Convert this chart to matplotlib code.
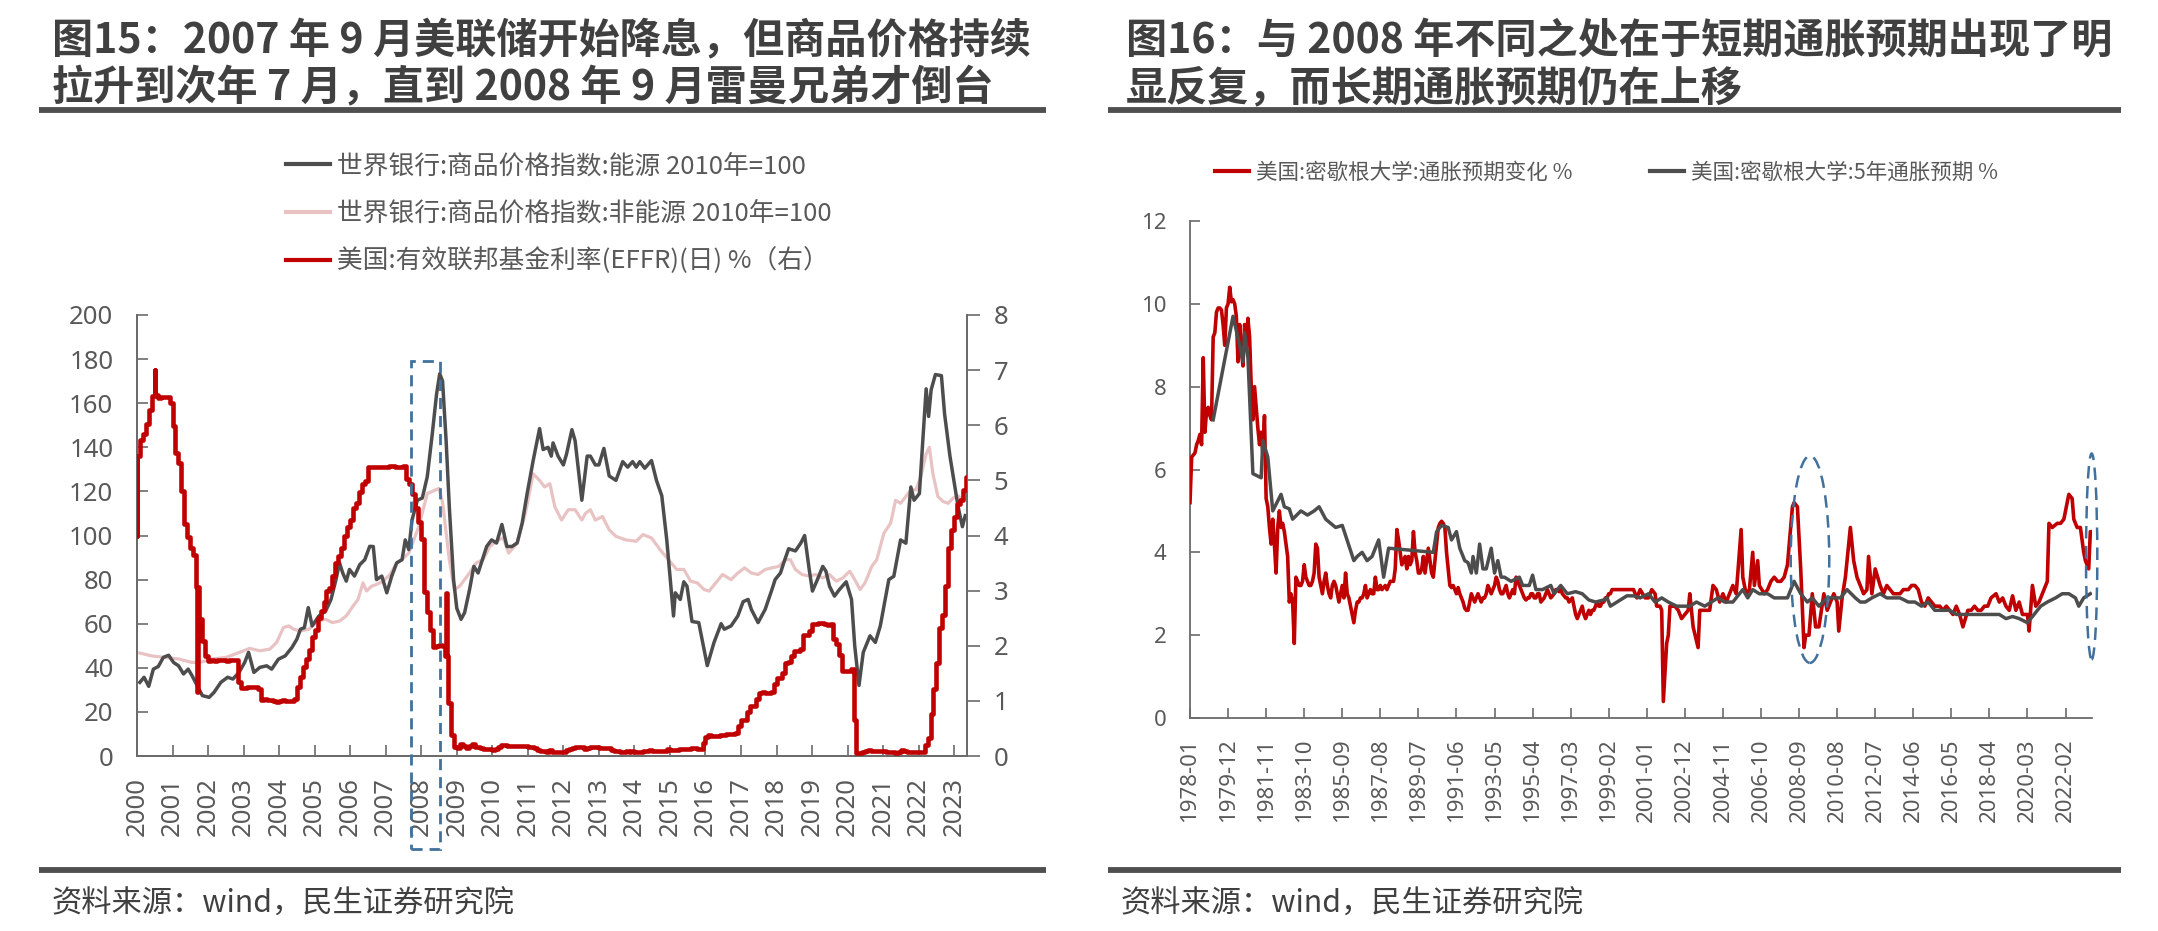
import matplotlib
matplotlib.use("Agg")
import matplotlib.pyplot as plt
from matplotlib.patches import Rectangle, Ellipse
from matplotlib.lines import Line2D
import numpy as np

plt.rcParams['font.family'] = ['Noto Sans CJK SC', 'DejaVu Sans']
plt.rcParams['axes.unicode_minus'] = False

# ======================= DATA: figure 15 =======================
energy_t = [2000.08, 2000.2, 2000.33, 2000.46, 2000.6, 2000.74, 2000.89, 2001.03, 2001.17, 2001.31,
            2001.44, 2001.55, 2001.67, 2001.84, 2002.03, 2002.17, 2002.36, 2002.55, 2002.7, 2002.87,
            2003.03, 2003.14, 2003.29, 2003.46, 2003.65, 2003.79, 2003.98, 2004.17, 2004.36, 2004.5,
            2004.6, 2004.71, 2004.82, 2004.93, 2005.12, 2005.31, 2005.46, 2005.6, 2005.7, 2005.79,
            2005.89, 2005.98, 2006.12, 2006.27, 2006.41, 2006.55, 2006.65, 2006.74, 2006.89, 2007.03,
            2007.17, 2007.31, 2007.46, 2007.55, 2007.65, 2007.74, 2007.89, 2008.03, 2008.17, 2008.31,
            2008.43, 2008.52, 2008.6, 2008.7, 2008.79, 2008.91, 2009.0, 2009.12, 2009.22, 2009.36,
            2009.48, 2009.6, 2009.72, 2009.84, 2009.98, 2010.12, 2010.27, 2010.41, 2010.55, 2010.7,
            2010.84, 2010.98, 2011.15, 2011.33, 2011.43, 2011.57, 2011.66, 2011.71, 2011.85, 2012.0,
            2012.09, 2012.24, 2012.33, 2012.52, 2012.67, 2012.76, 2012.9, 2013.0, 2013.14, 2013.29,
            2013.48, 2013.67, 2013.81, 2013.95, 2014.05, 2014.15, 2014.29, 2014.48, 2014.62, 2014.77,
            2014.91, 2015.1, 2015.15, 2015.29, 2015.39, 2015.48, 2015.62, 2015.81, 2016.05, 2016.24,
            2016.44, 2016.53, 2016.72, 2016.91, 2017.06, 2017.2, 2017.29, 2017.48, 2017.68, 2017.87,
            2017.96, 2018.11, 2018.2, 2018.34, 2018.53, 2018.68, 2018.79, 2018.92, 2019.01, 2019.15,
            2019.3, 2019.39, 2019.49, 2019.63, 2019.77, 2019.96, 2020.11, 2020.2, 2020.32, 2020.44,
            2020.63, 2020.78, 2020.92, 2021.16, 2021.3, 2021.49, 2021.64, 2021.78, 2021.87, 2022.02,
            2022.14, 2022.21, 2022.28, 2022.35, 2022.47, 2022.64, 2022.73, 2022.88, 2023.02, 2023.11,
            2023.23, 2023.31]
energy_v = [33.4, 35.7, 31.6, 39.4, 40.6, 44.7, 45.7, 42.4, 40.9, 37.2,
            39.4, 36.4, 32.7, 27.4, 26.6, 28.9, 33.4, 35.7, 34.9, 37.9,
            42.4, 47.0, 37.9, 40.2, 40.9, 39.4, 43.9, 45.4, 49.2, 53.0,
            57.5, 58.2, 67.3, 59.0, 63.5, 65.8, 71.0, 80.0, 87.6, 83.0,
            79.3, 84.6, 81.6, 86.8, 89.0, 95.1, 95.0, 80.0, 81.6, 74.0,
            81.6, 87.6, 89.0, 98.0, 93.6, 107.0, 116.0, 117.0, 126.7, 146.0,
            164.0, 173.4, 170.0, 143.0, 113.0, 80.0, 67.0, 62.0, 65.0, 75.5,
            86.0, 83.0, 89.0, 95.0, 98.0, 96.6, 105.0, 95.0, 95.0, 96.6,
            105.6, 119.0, 134.0, 148.5, 139.0, 140.0, 136.0, 142.0, 136.0, 132.0,
            137.0, 148.0, 143.0, 116.0, 136.0, 136.0, 132.0, 132.0, 139.5, 127.0,
            125.0, 133.5, 131.0, 133.5, 131.0, 133.5, 130.5, 134.0, 125.0, 118.0,
            98.0, 63.5, 74.0, 71.0, 79.0, 77.0, 61.0, 60.5, 41.0, 51.5,
            60.0, 57.5, 59.0, 63.5, 70.0, 71.0, 66.5, 60.5, 66.5, 75.5,
            80.0, 83.0, 87.5, 94.0, 93.0, 96.5, 100.0, 84.5, 74.8, 80.0,
            86.0, 83.8, 77.0, 72.5, 75.5, 79.0, 71.0, 50.0, 32.0, 47.0,
            54.5, 51.5, 59.0, 80.0, 81.5, 98.0, 96.5, 122.0, 116.0, 119.0,
            149.0, 166.5, 154.0, 166.0, 173.0, 172.5, 155.0, 136.0, 122.0, 113.0,
            104.0, 109.0]

nonenergy_t = [2000.08, 2000.41, 2000.79, 2001.17, 2001.55, 2001.84, 2002.12, 2002.5, 2002.89, 2003.17,
               2003.46, 2003.74, 2003.93, 2004.12, 2004.27, 2004.41, 2004.6, 2004.84, 2005.08, 2005.31,
               2005.5, 2005.7, 2005.89, 2006.08, 2006.22, 2006.36, 2006.46, 2006.6, 2006.74, 2006.93,
               2007.12, 2007.31, 2007.5, 2007.65, 2007.93, 2008.17, 2008.5, 2008.6, 2008.79, 2008.93,
               2009.08, 2009.36, 2009.55, 2009.74, 2009.93, 2010.12, 2010.31, 2010.46, 2010.7, 2010.93,
               2011.15, 2011.33, 2011.47, 2011.62, 2011.76, 2011.95, 2012.14, 2012.33, 2012.52, 2012.62,
               2012.76, 2012.9, 2013.1, 2013.29, 2013.48, 2013.76, 2014.05, 2014.24, 2014.48, 2014.72,
               2014.96, 2015.19, 2015.39, 2015.58, 2015.77, 2015.96, 2016.1, 2016.29, 2016.48, 2016.72,
               2016.91, 2017.1, 2017.29, 2017.48, 2017.68, 2017.87, 2018.06, 2018.25, 2018.39, 2018.53,
               2018.72, 2018.92, 2019.1, 2019.3, 2019.49, 2019.68, 2019.87, 2020.06, 2020.2, 2020.35,
               2020.49, 2020.68, 2020.82, 2021.02, 2021.21, 2021.35, 2021.49, 2021.64, 2021.78, 2021.92,
               2022.06, 2022.21, 2022.3, 2022.4, 2022.54, 2022.69, 2022.83, 2022.97, 2023.11, 2023.26]
nonenergy_v = [46.7, 45.4, 44.7, 44.0, 42.4, 42.7, 44.0, 44.7, 47.0, 48.8,
               47.7, 48.5, 51.5, 58.2, 59.0, 57.5, 56.7, 57.5, 61.2, 62.0,
               60.5, 61.2, 63.5, 68.0, 71.0, 78.5, 74.8, 77.0, 77.8, 79.3,
               82.3, 87.6, 89.8, 92.0, 104.0, 119.0, 121.4, 115.0, 89.0, 75.5,
               77.0, 83.0, 87.6, 89.0, 95.0, 97.4, 99.0, 92.0, 96.6, 110.0,
               128.0, 125.0, 122.0, 123.5, 113.0, 107.0, 111.7, 111.7, 107.0, 110.0,
               111.7, 107.0, 108.6, 102.6, 99.6, 98.0, 97.4, 100.4, 98.9, 93.6,
               89.0, 84.6, 84.6, 79.3, 78.5, 75.5, 74.8, 78.5, 82.3, 80.0,
               83.0, 85.3, 83.0, 82.3, 84.6, 85.3, 86.0, 89.0, 89.0, 84.6,
               82.3, 81.6, 82.3, 80.8, 82.3, 79.3, 80.8, 83.8, 80.0, 75.5,
               78.5, 86.0, 89.0, 101.0, 105.6, 116.0, 114.6, 117.7, 120.7, 120.7,
               126.7, 137.0, 140.0, 128.0, 117.7, 115.4, 114.6, 117.0, 118.0, 116.0]

# EFFR monthly, 2000-01 .. 2023-05 (%)
effr_start_year = 2000
effr_monthly = [
    5.45, 5.73, 5.85, 6.02, 6.27, 6.53, 6.54, 6.50, 6.52, 6.51, 6.51, 6.40,
    5.98, 5.49, 5.31, 4.80, 4.21, 3.97, 3.77, 3.65, 3.07, 2.49, 2.09, 1.82,
    1.73, 1.74, 1.73, 1.75, 1.75, 1.75, 1.73, 1.74, 1.75, 1.75, 1.34, 1.24,
    1.24, 1.26, 1.25, 1.26, 1.26, 1.22, 1.01, 1.03, 1.01, 1.01, 1.00, 0.98,
    1.00, 1.01, 1.00, 1.00, 1.00, 1.03, 1.26, 1.43, 1.61, 1.76, 1.93, 2.16,
    2.28, 2.50, 2.63, 2.79, 3.00, 3.04, 3.26, 3.50, 3.62, 3.78, 4.00, 4.16,
    4.29, 4.49, 4.59, 4.79, 4.94, 4.99, 5.24, 5.25, 5.25, 5.25, 5.25, 5.24,
    5.25, 5.26, 5.26, 5.25, 5.25, 5.25, 5.26, 5.02, 4.94, 4.76, 4.49, 4.24,
    3.94, 2.98, 2.61, 2.28, 1.98, 2.00, 2.01, 2.00, 1.81, 0.97, 0.39, 0.16,
    0.15, 0.22, 0.18, 0.15, 0.18, 0.21, 0.16, 0.16, 0.15, 0.12, 0.12, 0.12,
    0.11, 0.13, 0.16, 0.20, 0.20, 0.18, 0.18, 0.19, 0.19, 0.19, 0.19, 0.18,
    0.17, 0.16, 0.14, 0.10, 0.09, 0.09, 0.07, 0.10, 0.08, 0.07, 0.08, 0.07,
    0.08, 0.10, 0.13, 0.14, 0.16, 0.16, 0.16, 0.13, 0.14, 0.16, 0.16, 0.16,
    0.14, 0.15, 0.14, 0.15, 0.11, 0.09, 0.09, 0.08, 0.08, 0.09, 0.08, 0.09,
    0.07, 0.07, 0.08, 0.09, 0.09, 0.10, 0.09, 0.09, 0.09, 0.09, 0.09, 0.12,
    0.11, 0.11, 0.11, 0.12, 0.12, 0.13, 0.13, 0.14, 0.14, 0.12, 0.12, 0.24,
    0.34, 0.38, 0.36, 0.37, 0.37, 0.38, 0.39, 0.40, 0.40, 0.40, 0.41, 0.54,
    0.65, 0.66, 0.79, 0.90, 0.91, 1.04, 1.15, 1.16, 1.15, 1.15, 1.16, 1.30,
    1.41, 1.42, 1.51, 1.69, 1.70, 1.82, 1.91, 1.91, 1.95, 2.19, 2.20, 2.27,
    2.40, 2.40, 2.41, 2.42, 2.39, 2.38, 2.40, 2.13, 2.04, 1.83, 1.55, 1.55,
    1.55, 1.58, 0.65, 0.05, 0.05, 0.08, 0.09, 0.10, 0.09, 0.09, 0.09, 0.09,
    0.09, 0.08, 0.07, 0.07, 0.06, 0.08, 0.10, 0.09, 0.08, 0.08, 0.08, 0.08,
    0.08, 0.08, 0.20, 0.33, 0.77, 1.21, 1.68, 2.33, 2.56, 3.08, 3.78, 4.10,
    4.33, 4.57, 4.65, 4.83, 5.06]
# single-day outliers visible in the daily series
effr_spike_t = [2000.0, 2000.50, 2001.70, 2008.70]
effr_spike_v = [4.00, 7.00, 1.16, 2.96]

years15 = list(range(2000, 2024))

# ======================= DATA: figure 16 =======================
# months since 1978-01
mich1_m = list(range(0, 256)) + [
    266, 268, 270, 272, 275, 277, 279, 281, 282, 284, 285, 286, 288, 289, 290, 293, 295, 297, 299, 301,
    302, 304, 307, 308, 312, 314, 316, 318, 320, 322, 324, 328, 330, 331, 333, 334, 336, 338, 340, 341,
    343, 344, 347, 349, 351, 353, 355, 357, 359, 361, 364, 365, 367, 369, 371, 372, 374, 376, 378, 380,
    383, 385, 387, 389, 391, 392, 394, 396, 399, 401, 403, 405, 407, 409, 410, 412, 414, 417, 419, 421,
    423, 425, 427, 429, 431, 434, 436, 438, 440, 442, 444, 446, 448, 450, 453, 455, 457, 459, 461, 463,
    465, 467, 470, 472, 474, 476, 478, 480, 482, 484, 487, 489, 491, 493, 495, 497, 499, 501, 503, 506,
    507, 509, 511, 513, 515, 517, 518, 519, 521, 524, 526, 528, 529, 531, 533, 534, 536, 538, 540, 541,
    543, 544, 545]
mich1_v = [
    5.2, 6.3, 6.35, 6.4, 6.6, 6.7, 6.85, 6.6, 8.7, 6.9, 7.4, 7.5, 7.3, 7.2, 9.2, 9.3, 9.8, 9.9, 9.9, 9.85,
    9.5, 9.0, 9.9, 10.0, 10.4, 10.05, 10.1, 10.0, 9.7, 8.6, 9.5, 8.9, 8.5, 9.5, 9.0, 9.65, 9.2, 8.0, 7.2, 8.0,
    7.5, 7.0, 6.6, 6.9, 6.4, 7.3, 5.3, 5.1, 4.6, 4.2, 4.8, 4.2, 3.5, 4.6, 5.0, 4.6, 4.7, 4.5, 4.2, 3.9,
    2.8, 3.0, 2.8, 1.8, 3.4, 3.3, 3.2, 3.2, 3.3, 3.7, 3.4, 3.3, 3.2, 3.2, 3.3, 3.5, 4.2, 4.1, 3.4, 3.2,
    3.0, 3.3, 3.5, 3.2, 3.0, 2.9, 3.2, 3.3, 3.2, 3.0, 2.8, 3.0, 3.2, 2.9, 3.5, 3.0, 2.9, 2.7, 2.5, 2.3,
    2.6, 2.8, 2.8, 2.9, 2.9, 3.0, 3.2, 2.9, 3.0, 3.1, 3.0, 3.0, 3.4, 3.1, 3.1, 3.2, 3.1, 3.15, 3.2, 3.1,
    3.2, 3.3, 3.3, 3.3, 3.6, 4.55, 4.3, 4.0, 3.7, 3.8, 3.9, 3.6, 3.9, 3.7, 3.8, 4.5, 4.0, 3.8, 3.5, 3.5,
    3.6, 3.9, 3.5, 3.8, 4.1, 3.8, 3.5, 3.4, 3.8, 4.2, 4.6, 4.7, 4.75, 4.7, 4.6, 4.0, 3.6, 3.2, 3.15, 3.2,
    3.1, 3.0, 3.15, 3.0, 2.9, 2.8, 2.65, 2.6, 2.6, 2.8, 3.0, 2.9, 2.8, 2.9, 3.0, 2.9, 2.8, 2.9, 2.9, 3.0,
    3.2, 3.1, 3.0, 3.1, 3.2, 3.4, 3.3, 3.1, 3.0, 3.0, 3.1, 3.2, 3.0, 2.9, 3.0, 3.1, 3.0, 3.4, 3.3, 3.2,
    3.1, 3.0, 2.9, 2.85, 2.9, 2.9, 3.0, 3.0, 2.9, 2.9, 3.0, 3.0, 2.8, 2.85, 2.9, 3.0, 3.1, 3.0, 2.9, 2.95,
    3.0, 3.1, 3.1, 3.05, 3.1, 3.0, 2.95, 2.9, 2.9, 2.8, 2.85, 2.9, 2.7, 2.5, 2.4, 2.5, 2.6, 2.7, 2.5, 2.4,
    2.5, 2.6, 2.5, 2.6, 2.6, 2.7, 2.8, 2.7, 2.7, 2.8, 2.8, 2.9, 2.9, 3.0, 3.0, 3.1,
    3.1, 3.1, 2.9, 3.1, 2.9, 2.9, 3.1, 3.0, 2.7, 2.7, 2.6, 0.4, 1.8, 2.0, 2.7, 2.7, 2.6, 2.4, 2.5, 2.6,
    3.0, 2.2, 1.7, 2.6, 2.6, 2.6, 3.2, 3.1, 2.8, 3.0, 2.8, 3.2, 3.0, 3.5, 4.55, 3.4, 3.0, 3.1, 4.0, 3.2,
    3.8, 3.2, 3.0, 3.1, 3.3, 3.4, 3.3, 3.3, 3.4, 3.7, 5.1, 5.2, 5.1, 3.6, 1.7, 2.0, 2.0, 3.0, 2.2, 2.2,
    3.0, 2.6, 2.8, 3.0, 2.8, 2.1, 2.9, 3.4, 4.6, 3.8, 3.4, 3.2, 3.0, 3.1, 3.9, 3.0, 3.6, 3.2, 3.0, 3.2,
    3.1, 3.0, 3.0, 3.0, 3.1, 3.1, 3.2, 3.2, 3.1, 2.8, 2.7, 2.9, 2.8, 2.7, 2.7, 2.6, 2.7, 2.6, 2.5, 2.7,
    2.5, 2.2, 2.6, 2.6, 2.7, 2.6, 2.6, 2.7, 2.7, 2.9, 3.0, 2.8, 2.9, 2.7, 2.6, 2.95, 2.6, 2.8, 2.5, 2.5,
    2.1, 3.2, 2.7, 2.8, 3.0, 3.2, 3.3, 4.7, 4.6, 4.7, 4.7, 4.8, 5.0, 5.4, 5.3, 4.8, 4.6, 4.6, 4.0, 3.8,
    3.6, 4.5, 4.5]

mich5_m = [14, 26, 30, 32, 33, 35, 38, 43, 44, 47, 50, 55, 57, 60, 62, 67, 71, 75, 78, 82,
           85, 88, 92, 99, 101, 104, 107, 110, 114, 117, 120, 147, 149, 152, 156, 158, 161, 163, 166, 168,
           170, 171, 173, 175, 177, 179, 182, 184, 186, 188, 190, 194, 199, 201, 205, 207, 209, 213, 218, 220,
           224, 228, 233, 237, 241, 245, 250, 252, 254, 258, 262, 264, 268, 272, 277, 281, 285, 289, 294, 298,
           302, 306, 311, 315, 319, 323, 328, 332, 334, 337, 340, 344, 349, 353, 357, 361, 365, 369, 373, 376,
           380, 385, 389, 393, 397, 402, 405, 408, 412, 417, 421, 425, 429, 434, 438, 442, 446, 450, 455, 459,
           463, 467, 472, 476, 480, 484, 489, 493, 497, 501, 506, 508, 510, 514, 518, 523, 527, 531, 535, 537,
           540, 544]
mich5_v = [7.2, 9.7, 9.0, 8.6, 9.3, 8.7, 5.9, 5.8, 6.7, 6.3, 5.0, 5.4, 5.1, 5.05, 4.8, 5.0, 4.9, 5.0, 5.1, 4.8,
           4.7, 4.6, 4.65, 3.8, 3.9, 4.0, 3.8, 3.9, 4.3, 3.4, 4.1, 4.0, 4.5, 4.65, 4.6, 4.3, 4.5, 4.1, 3.8, 3.75,
           3.5, 3.9, 3.5, 4.2, 3.6, 3.6, 4.1, 3.5, 3.8, 3.4, 3.4, 3.3, 3.4, 3.2, 3.2, 3.45, 3.1, 3.1, 3.2, 3.0,
           3.2, 3.0, 3.05, 3.0, 2.85, 2.8, 2.85, 2.9, 2.7, 2.8, 2.9, 2.95, 2.95, 2.9, 3.0, 2.8, 2.9, 2.8, 2.7, 2.7,
           2.7, 2.8, 2.7, 2.8, 2.9, 2.8, 2.8, 3.0, 3.1, 2.9, 3.1, 3.0, 3.0, 2.9, 2.9, 2.9, 3.3, 3.0, 2.8, 2.9,
           2.7, 2.9, 2.9, 2.9, 3.1, 2.9, 2.8, 2.8, 2.9, 3.0, 2.9, 2.9, 2.9, 2.8, 2.8, 2.7, 2.8, 2.6, 2.6, 2.6,
           2.5, 2.5, 2.5, 2.5, 2.5, 2.5, 2.5, 2.4, 2.45, 2.4, 2.3, 2.4, 2.5, 2.7, 2.8, 2.9, 3.0, 3.0, 2.9, 2.7,
           2.9, 3.0]

ticklabels16 = ['1978-01', '1979-12', '1981-11', '1983-10', '1985-09', '1987-08', '1989-07', '1991-06',
                '1993-05', '1995-04', '1997-03', '1999-02', '2001-01', '2002-12', '2004-11', '2006-10',
                '2008-09', '2010-08', '2012-07', '2014-06', '2016-05', '2018-04', '2020-03', '2022-02']

title15 = ["图15：2007 年 9 月美联储开始降息，但商品价格持续", "拉升到次年 7 月，直到 2008 年 9 月雷曼兄弟才倒台"]
title16 = ["图16：与 2008 年不同之处在于短期通胀预期出现了明", "显反复，而长期通胀预期仍在上移"]
source_text = "资料来源：wind，民生证券研究院"
labels15 = ["世界银行:商品价格指数:能源 2010年=100", "世界银行:商品价格指数:非能源 2010年=100",
            "美国:有效联邦基金利率(EFFR)(日) %（右）"]
labels16 = ["美国:密歇根大学:通胀预期变化 %", "美国:密歇根大学:5年通胀预期 %"]

# ======================= STYLE =======================
W, H, DPI = 2158, 931, 100
C_DARK = '#4d4d4d'
C_PINK = '#e9c3c3'
C_RED = '#c00000'
C_BLUE = '#41719c'
C_AX = '#6b6b6b'
C_TXT = '#595959'
C_TITLE = '#404040'

fig = plt.figure(figsize=(W / DPI, H / DPI), dpi=DPI)
fx = lambda px: px / W
fy = lambda py: 1 - py / H

# ---------------- titles / rules / source ----------------
for x0, lines in ((52, title15), (1126, title16)):
    fig.text(fx(x0), fy(41), lines[0], fontsize=29.6, fontweight='bold', color=C_TITLE, va='center', ha='left')
    fig.text(fx(x0), fy(88), lines[1], fontsize=29.6, fontweight='bold', color=C_TITLE, va='center', ha='left')
for xa, xb in ((39, 1046), (1108, 2121)):
    for yy in (110, 870):
        fig.add_artist(Line2D([fx(xa), fx(xb)], [fy(yy), fy(yy)], transform=fig.transFigure,
                              color='#4f4f4f', lw=4.2, solid_capstyle='butt'))
    fig.text(fx(xa + 13), fy(904), source_text, fontsize=21.8, color=C_TITLE, va='center', ha='left')


def style_axis(ax, lab_size):
    for s in ax.spines.values():
        s.set_color(C_AX)
        s.set_linewidth(1.3)
    ax.tick_params(colors=C_AX, labelcolor=C_TXT, labelsize=lab_size, width=1.2)


# ======================= FIGURE 15 =======================
ax = fig.add_axes([fx(137), fy(756), fx(967) - fx(137), fy(315) - fy(756)])
ax2 = ax.twinx()
XMAX15 = 2023.36
ax.set_xlim(2000.0, XMAX15)
ax.set_ylim(0, 200)
ax2.set_ylim(0, 8)
ax.set_yticks(range(0, 201, 20))
ax2.set_yticks(range(0, 9, 1))
ax.set_xticks(years15)
ax.set_xticklabels([str(y) for y in years15], rotation=90, family=['Noto Sans', 'DejaVu Sans'])
for a in (ax, ax2):
    style_axis(a, 18.5)
    a.spines['top'].set_visible(False)
    for lab in a.get_yticklabels():
        lab.set_family(['Noto Sans', 'DejaVu Sans'])
ax.tick_params(axis='y', direction='in', length=8, pad=17)
ax.tick_params(axis='x', direction='in', length=8, pad=15)
ax2.tick_params(axis='y', direction='out', length=9, pad=10)

l1, = ax.plot(energy_t, energy_v, color=C_DARK, lw=2.5, zorder=3)
l2, = ax.plot(nonenergy_t, nonenergy_v, color=C_PINK, lw=2.3, zorder=2)

# effective fed funds rate, monthly steps + daily outliers
e_t = [effr_start_year + i / 12 for i in range(len(effr_monthly))]
pts = [(t, v, 1) for t, v in zip(e_t, effr_monthly)]
for ts, vs in zip(effr_spike_t, effr_spike_v):
    base = effr_monthly[min(int(round((ts - effr_start_year) * 12 - 0.5)), len(effr_monthly) - 1)] \
        if ts > effr_start_year else effr_monthly[0]
    pts.append((ts, vs, 2))
    pts.append((ts + 0.012, base, 3))
pts.sort(key=lambda p: (p[0], p[2]))
pts.append((XMAX15, effr_monthly[-1], 1))
l3, = ax2.plot([p[0] for p in pts], [p[1] for p in pts], color=C_RED, lw=3.3,
               drawstyle='steps-post', zorder=4)

# dashed box around 2008
rect = Rectangle((2007.72, -42), 0.80, 179 + 42, fill=False, ls=(0, (4, 2.5)), lw=2.0,
                 edgecolor=C_BLUE, clip_on=False, zorder=6)
ax2.add_patch(rect)
rect.set_transform(ax.transData)

fig.legend([l1, l2, l3], labels15, loc='center left', bbox_to_anchor=(fx(286), fy(214)),
           frameon=False, fontsize=18.5, handlelength=1.7, handletextpad=0.3, labelspacing=0.82,
           borderpad=0, borderaxespad=0, labelcolor=C_TXT)
for ln in fig.legends[-1].get_lines():
    ln.set_linewidth(3.0)

# ======================= FIGURE 16 =======================
bx = fig.add_axes([fx(1190), fy(718), fx(2092) - fx(1190), fy(221) - fy(718)])
bx.set_xlim(0, 545)
bx.set_ylim(0, 12)
bx.set_yticks(range(0, 13, 2))
tick_pos16 = [(int(s[:4]) - 1978) * 12 + int(s[5:]) - 1 for s in ticklabels16]
bx.set_xticks(tick_pos16)
bx.set_xticklabels(ticklabels16, rotation=90, family=['Noto Sans', 'DejaVu Sans'])
for lab in bx.get_yticklabels():
    lab.set_family(['Noto Sans', 'DejaVu Sans'])
style_axis(bx, 16)
bx.spines['top'].set_visible(False)
bx.spines['right'].set_visible(False)
bx.tick_params(axis='y', direction='in', length=7, pad=17)
bx.tick_params(axis='x', direction='in', length=7, pad=15)

m1, = bx.plot(mich1_m, mich1_v, color=C_RED, lw=2.6, zorder=3)
m2, = bx.plot(mich5_m, mich5_v, color=C_DARK, lw=2.5, zorder=4)

for (cx, cy, w, h) in ((374.6, 3.83, 23.3, 5.0), (544.8, 3.9, 6.8, 4.97)):
    bx.add_patch(Ellipse((cx, cy), w, h, fill=False, ls=(0, (5, 3)), lw=1.8,
                         edgecolor=C_BLUE, clip_on=False, zorder=6))

fig.legend([m1, m2], labels16, loc='center left', bbox_to_anchor=(fx(1215), fy(173)),
           frameon=False, fontsize=15.5, ncol=2, handlelength=1.6, handletextpad=0.3,
           columnspacing=3.6, borderpad=0, borderaxespad=0, labelcolor=C_TXT)
for ln in fig.legends[-1].get_lines():
    ln.set_linewidth(3.0)

fig.savefig('out.png', dpi=DPI)
